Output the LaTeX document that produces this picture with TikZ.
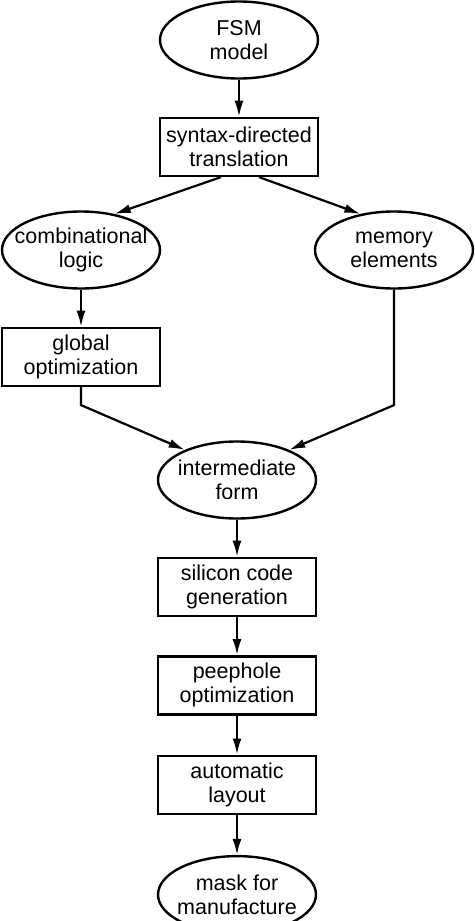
\documentclass[tikz,border=0pt]{standalone}
\usepackage{fontspec}
\setmainfont{Liberation Sans}
\usetikzlibrary{positioning,shapes.geometric,arrows.meta}
\begin{document}
\begin{tikzpicture}[x=1pt,y=1pt,node distance=37pt,
  every node/.style={font=\fontsize{21.5}{24}\selectfont,align=center},
  state/.style={draw,ellipse,line width=2.4pt,minimum width=158pt,minimum height=77pt,inner xsep=-12pt,inner ysep=0pt},
  stage/.style={draw,rectangle,line width=2.4pt,minimum width=158pt,minimum height=58pt,inner sep=0pt},
  flow/.style={line width=2.2pt,-{Latex[length=16pt,width=9pt]}}]
  \useasboundingbox (0,0) rectangle (474,-921);
  \node(fsm) at (239,-40) [state] {FSM\\model};
  \node(syntax)[stage,below=of fsm] {syntax-directed\\translation};
  \node(comb) at (81,-250) [state] {combinational\\logic};
  \node(mem) at (394,-250) [state] {memory\\elements};
  \node(global)[stage,below=of comb] {global\\optimization};
  \node(inter) at (237,-480) [state] {intermediate\\form};
  \node(silicon)[stage,below=of inter] {silicon code\\generation};
  \node(peep)[stage,below=38pt of silicon] {peephole\\optimization};
  \node(layout)[stage,below=39pt of peep] {automatic\\layout};
  \node(mask)[state,below=40pt of layout] {mask for\\manufacture};
  \coordinate(gbend) at ([yshift=-18pt]global.south);
  \coordinate(mbend) at (gbend -| mem.south);
  \draw[flow] (fsm) -- (syntax);
  \draw[flow] ([xshift=-18pt]syntax.south) -- (comb.47);
  \draw[flow] ([xshift=20pt]syntax.south) -- (mem.133);
  \draw[flow] (comb) -- (global);
  \draw[flow] (global.south) -- (gbend) -- (inter.150);
  \draw[flow] (mem.south) -- (mbend) -- (inter.30);
  \draw[flow] (inter) -- (silicon);
  \draw[flow] (silicon) -- (peep);
  \draw[flow] (peep) -- (layout);
  \draw[flow] (layout) -- (mask);
\end{tikzpicture}
\end{document}
